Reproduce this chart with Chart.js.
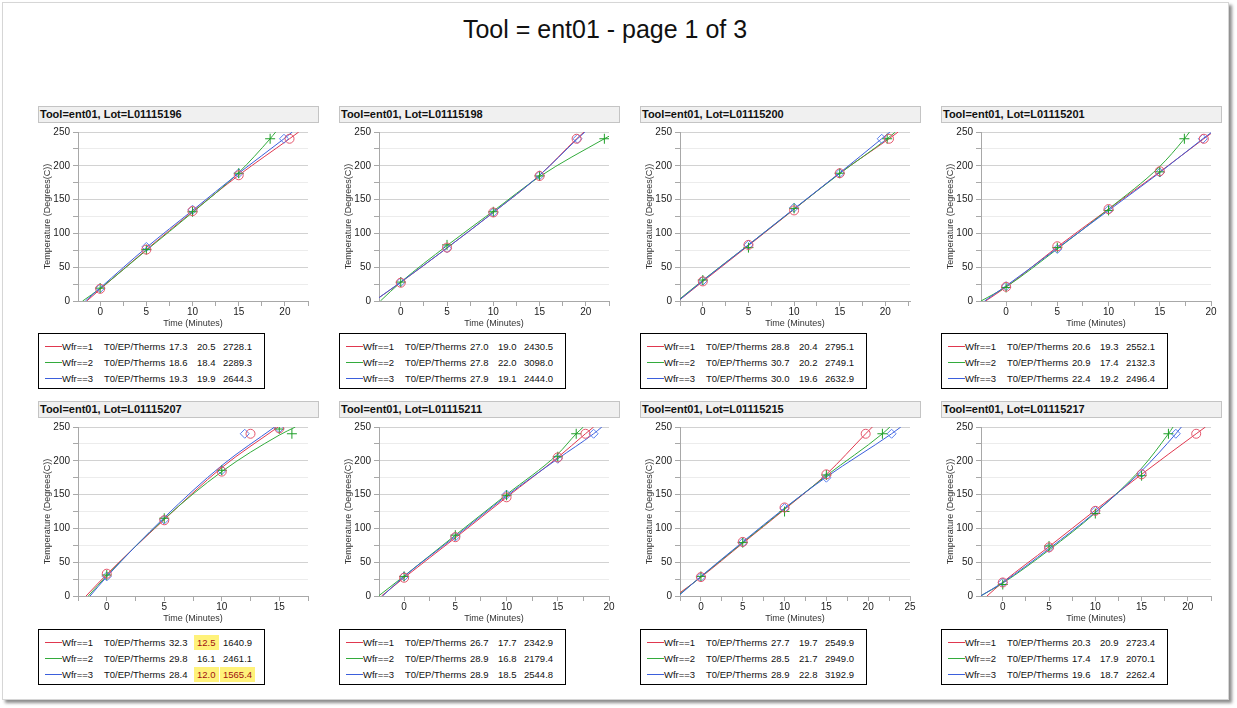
<!DOCTYPE html>
<html>
<head>
<meta charset="utf-8">
<script src="https://cdn.jsdelivr.net/npm/chart.js@4.4.1/dist/chart.umd.min.js"></script>
<style>
body { margin: 0; background: #fff; font-family: "Liberation Sans", Arial, sans-serif; color: #111; }
#frame { position: absolute; left: 2px; top: 2px; width: 1225px; height: 696px; background: #fff;
  border: 1px solid #d6d6d6; box-shadow: 3px 3px 3px rgba(0,0,0,0.45); }
#title { position: absolute; left: 0; top: 14px; width: 1210px; text-align: center; font-size: 25px; line-height: 30px; }
.panel { position: absolute; width: 281px; height: 290px; }
.hdr { position: absolute; left: 0; top: 0; width: 278px; height: 15px; border: 1px solid #c4c4c4; background: #f0f0f0;
  font-weight: bold; font-size: 11px; line-height: 15px; padding-left: 1px; white-space: nowrap; }
.cv { position: absolute; left: 0; top: 17px; }
.leg { position: absolute; left: 0; width: 225px; height: 54px; border: 1px solid #000; font-size: 9.5px; background: #fff; }
.leg span { position: absolute; line-height: 15px; white-space: nowrap; }
.leg .ln { position: absolute; left: 6px; width: 17px; height: 1px; }
.leg .hl { background: #fff27a; color: #a01010; padding: 0 3px; margin-left: -3px; }
</style>
</head>
<body>
<div id="frame"></div>
<div id="title">Tool = ent01 - page 1 of 3</div>
<div id="panels"></div>
<script>
// panels, row by row
const lots = ['L01115196', 'L01115198', 'L01115200', 'L01115201', 'L01115207', 'L01115211', 'L01115215', 'L01115217'];
const waferNames = ['Wfr==1', 'Wfr==2', 'Wfr==3'];
const statLabel = 'T0/EP/Therms';

// legend table values per wafer: T0, EP, Therms
const t0Vals = [
  [17.3, 18.6, 19.3], [27.0, 27.8, 27.9], [28.8, 30.7, 30.0], [20.6, 20.9, 22.4],
  [32.3, 29.8, 28.4], [26.7, 28.9, 28.9], [27.7, 28.5, 28.9], [20.3, 17.4, 19.6]
];
const epVals = [
  [20.5, 18.4, 19.9], [19.0, 22.0, 19.1], [20.4, 20.2, 19.6], [19.3, 17.4, 19.2],
  [12.5, 16.1, 12.0], [17.7, 16.8, 18.5], [19.7, 21.7, 22.8], [20.9, 17.9, 18.7]
];
const thermVals = [
  [2728.1, 2289.3, 2644.3], [2430.5, 3098.0, 2444.0], [2795.1, 2749.1, 2632.9], [2552.1, 2132.3, 2496.4],
  [1640.9, 2461.1, 1565.4], [2342.9, 2179.4, 2544.8], [2549.9, 2949.0, 3192.9], [2723.4, 2070.1, 2262.4]
];
// highlighted cells: [panel, wafer, column (0=T0,1=EP,2=Therms)]
const flagged = [[4, 0, 1], [4, 2, 1], [4, 2, 2]];

// measured points
const sampleTimes = [0, 5, 10, 15];
const epTemp = 240;
const sampleTemps = [
  [[18, 76, 133, 186], [19, 76, 132, 189], [19, 80, 135, 189]],
  [[27, 79, 131, 185], [28, 83, 132, 185], [28, 78, 131, 186]],
  [[29, 83, 134, 189], [31, 79, 137, 189], [30, 83, 138, 189]],
  [[21, 81, 136, 192], [20, 79, 134, 191], [22, 77, 135, 190]],
  [[33, 112, 184, 248], [31, 115, 186, 247], [29, 113, 186, 248]],
  [[27, 87, 146, 205], [29, 90, 149, 206], [29, 88, 150, 203]],
  [[28, 80, 131, 180], [29, 79, 125, 179], [28, 79, 130, 175]],
  [[20, 72, 126, 180], [17, 74, 122, 178], [20, 71, 126, 182]]
];

// fitted curves
const fitTimes = [
  [[-1.45, 0, 5, 10, 15, 20.5, 21.5], [-1.9, 0, 5, 10, 15, 18.4, 19.0], [-1.6, 0, 5, 10, 15, 19.9, 20.8]],
  [[-2.6, 0, 5, 10, 15, 19.0, 19.8], [-2.2, 0, 5, 10, 15, 22.0, 22.8], [-2.6, 0, 5, 10, 15, 19.1, 19.9]],
  [[-2.7, 0, 5, 10, 15, 20.4, 21.4], [-2.8, 0, 5, 10, 15, 20.2, 21.1], [-2.7, 0, 5, 10, 15, 19.6, 20.5]],
  [[-2.0, 0, 5, 10, 15, 19.3, 20.2], [-2.45, 0, 5, 10, 15, 17.4, 17.9], [-2.1, 0, 5, 10, 15, 19.2, 20.1]],
  [[-1.8, 0, 5, 10, 14.9], [-1.6, 0, 5, 10, 15, 16.4], [-1.45, 0, 5, 10, 14.6]],
  [[-2.2, 0, 5, 10, 15, 17.7, 18.5], [-2.5, 0, 5, 10, 15, 16.8, 17.5], [-2.1, 0, 5, 10, 15, 18.5, 19.3]],
  [[-2.6, 0, 5, 10, 15, 19.7, 20.5], [-2.6, 0, 5, 10, 15, 21.7, 22.6], [-2.6, 0, 5, 10, 15, 22.8, 23.9]],
  [[-1.7, 0, 5, 10, 15, 20.9, 21.9], [-2.4, 0, 5, 10, 15, 17.9, 18.4], [-2.4, 0, 5, 10, 15, 18.7, 19.3]]
];
const fitTemps = [
  [[0, 17.3, 76, 132, 186, 240, 250], [0, 18.6, 75, 131, 190, 240, 250], [0, 19.3, 79, 134, 189, 240, 250]],
  [[2.5, 27.6, 78.5, 131, 186, 240, 250], [0, 27.8, 82, 133, 184, 240, 246], [2.5, 27.9, 78.5, 131, 186, 240, 250]],
  [[0, 28.8, 82, 135.5, 189, 240, 250], [0, 30.7, 83, 136, 188.5, 240, 250], [0, 30.0, 83, 136.5, 189.5, 240, 250]],
  [[0, 20.6, 80, 136, 191, 240, 250], [0, 20.9, 77, 136, 199, 240, 250], [0, 22.4, 78, 134, 190, 240, 250]],
  [[0, 32, 113, 190, 250], [0, 30, 114, 184, 238, 250], [0, 28.5, 116, 193, 250]],
  [[0, 27, 86, 146, 205, 240, 250], [0, 29.5, 90, 150, 210, 240, 250], [0, 28.9, 88, 148, 203, 240, 250]],
  [[4, 27.7, 78, 128, 180, 240, 250], [2, 28.5, 79, 129, 178, 240, 250], [1, 28.9, 80, 130, 176, 240, 250]],
  [[0, 20.3, 73, 127, 180, 240, 250], [0, 19, 68, 123, 189, 240, 250], [0, 20, 70, 124, 185, 240, 250]]
];

// axis ranges and tick spacing
const xMin = [-2.4, -2.35, -2.5, -2.45, -2.5, -2.45, -2.5, -2.35];
const xMax = [22.5, 22.5, 22.7, 20, 17.5, 20, 25, 22.5];
const xStep = 2.5, xLabelStep = 5;
const yMin = 0, yMax = 250, yStep = 25, yLabelStep = 50;

const lineColors = ['#e0384f', '#33ab3c', '#3b5fdc'];
const markColors = ['#e4566c', '#1f9f28', '#5b80ee'];
const markStyles = ['circle', 'cross', 'rectRot'];
const markSizes = [4.5, 5, 4.5];

const colLeft = [38, 339, 640, 941];
const rowTop = [106, 401];
const legTop = [227, 228];

const near = (v, s) => Math.abs(v / s - Math.round(v / s)) < 1e-6;

function stepTicks(min, max, step) {
  const out = [];
  for (let v = Math.ceil(min / step - 1e-9) * step; v <= max + 1e-9; v += step) {
    out.push({ value: Math.round(v * 1000) / 1000 });
  }
  return out;
}

function buildLegend(p) {
  const leg = document.createElement('div');
  leg.className = 'leg';
  leg.style.top = legTop[Math.floor(p / 4)] + 'px';
  waferNames.forEach((name, w) => {
    const y = 5 + w * 16;
    const ln = document.createElement('div');
    ln.className = 'ln';
    ln.style.top = (y + 7) + 'px';
    ln.style.backgroundColor = lineColors[w];
    leg.appendChild(ln);
    const cells = [[name, 23], [statLabel, 65]];
    const vals = [t0Vals[p][w], epVals[p][w], thermVals[p][w]];
    const lefts = [130, 158, 184];
    vals.forEach((v, c) => cells.push([v.toFixed(1), lefts[c], flagged.some(f => f[0] === p && f[1] === w && f[2] === c)]));
    cells.forEach(([txt, x, hl]) => {
      const s = document.createElement('span');
      s.textContent = txt;
      s.style.left = x + 'px';
      s.style.top = y + 'px';
      if (hl) s.className = 'hl';
      leg.appendChild(s);
    });
  });
  return leg;
}

lots.forEach((lot, p) => {
  const panel = document.createElement('div');
  panel.className = 'panel';
  panel.style.left = colLeft[p % 4] + 'px';
  panel.style.top = rowTop[Math.floor(p / 4)] + 'px';
  const hdr = document.createElement('div');
  hdr.className = 'hdr';
  hdr.textContent = 'Tool=ent01, Lot=' + lot;
  panel.appendChild(hdr);
  const cv = document.createElement('canvas');
  cv.className = 'cv';
  cv.width = 280;
  cv.height = 210;
  panel.appendChild(cv);
  panel.appendChild(buildLegend(p));
  document.getElementById('panels').appendChild(panel);

  const datasets = [];
  waferNames.forEach((name, w) => {
    const pts = sampleTimes.map((t, i) => ({ x: t, y: sampleTemps[p][w][i] }));
    pts.push({ x: epVals[p][w], y: epTemp });
    datasets.push({
      label: name + ' data',
      data: pts,
      showLine: false,
      pointStyle: markStyles[w],
      pointRadius: markSizes[w],
      pointBorderColor: markColors[w],
      pointBackgroundColor: 'rgba(0,0,0,0)',
      pointBorderWidth: 1
    });
  });
  // blue drawn last so it sits on top
  [2, 1, 0].forEach(w => {
    datasets.push({
      label: waferNames[w],
      data: fitTimes[p][w].map((t, i) => ({ x: t, y: fitTemps[p][w][i] })),
      showLine: true,
      pointRadius: 0,
      borderColor: lineColors[w],
      borderWidth: 1,
      cubicInterpolationMode: 'monotone'
    });
  });

  new Chart(cv.getContext('2d'), {
    type: 'scatter',
    data: { datasets },
    options: {
      responsive: false,
      animation: false,
      layout: { padding: { top: 6, right: 10, left: 0, bottom: 0 } },
      plugins: { legend: { display: false }, tooltip: { enabled: false } },
      scales: {
        x: {
          type: 'linear', min: xMin[p], max: xMax[p],
          afterBuildTicks: s => { s.ticks = stepTicks(xMin[p], xMax[p], xStep); },
          afterFit: s => { s.height = 32; },
          border: { color: '#a8a8a8' },
          grid: { drawOnChartArea: false, tickLength: 5, color: '#a8a8a8' },
          ticks: {
            autoSkip: false, maxRotation: 0, padding: 0,
            font: { size: 10, family: 'Liberation Sans' }, color: '#222',
            callback: v => near(v, xLabelStep) ? v : ''
          },
          title: { display: true, text: 'Time (Minutes)', font: { size: 9, family: 'Liberation Sans' }, color: '#333', padding: { top: 0, bottom: 4 } }
        },
        y: {
          type: 'linear', min: yMin, max: yMax,
          afterBuildTicks: s => { s.ticks = stepTicks(yMin, yMax, yStep); },
          afterFit: s => { s.width = 40; },
          border: { color: '#a8a8a8' },
          grid: {
            tickLength: 5, tickColor: '#a8a8a8',
            color: c => (c.tick && near(c.tick.value, yLabelStep)) ? '#d2d2d2' : '#ececec'
          },
          ticks: {
            autoSkip: false, padding: 3,
            font: { size: 10, family: 'Liberation Sans' }, color: '#222',
            callback: v => near(v, yLabelStep) ? v : ''
          },
          title: { display: true, text: 'Temperature (Degrees(C))', font: { size: 9, family: 'Liberation Sans' }, color: '#333', padding: { top: 4, bottom: 0 } }
        }
      }
    }
  });
});
</script>
</body>
</html>
